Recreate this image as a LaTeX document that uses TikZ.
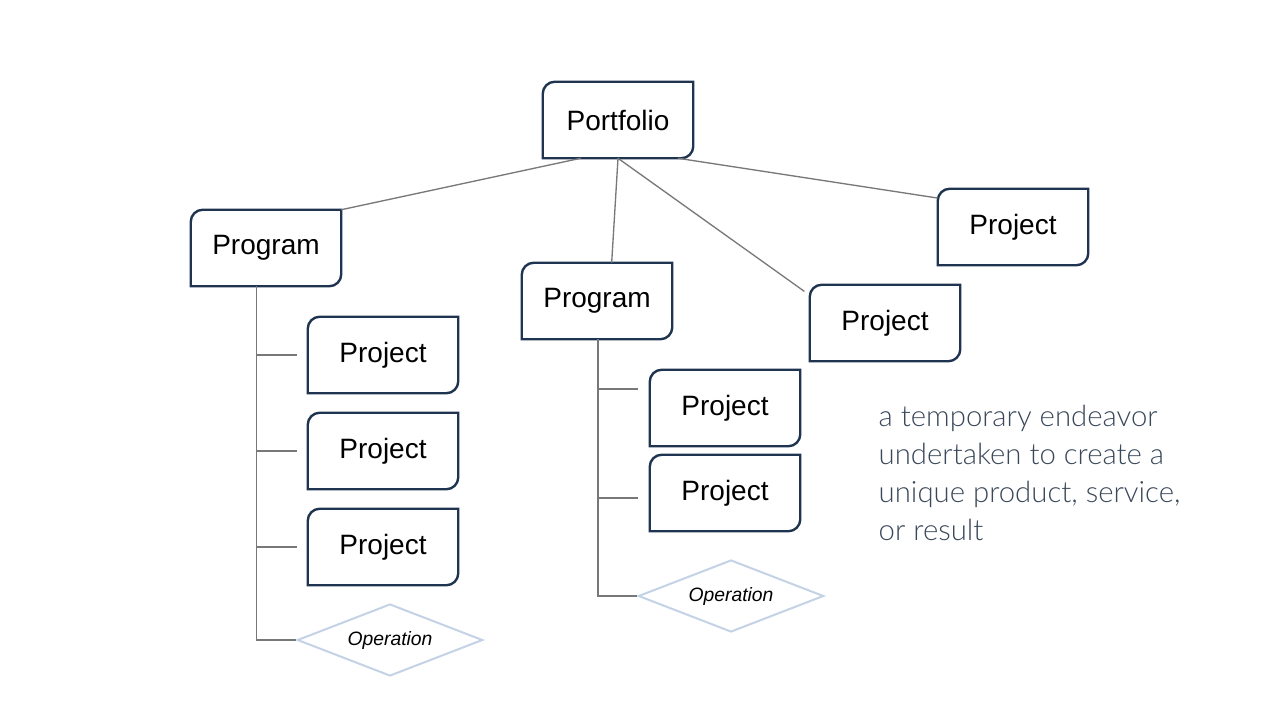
\documentclass[tikz,border=0pt]{standalone}
\usepackage{fontspec}
\setmainfont{Liberation Sans}
\newfontfamily\notefont{Lato Light}
\usetikzlibrary{shapes.geometric}
\definecolor{boxblue}{RGB}{31,52,80}
\definecolor{linegray}{RGB}{120,120,120}
\definecolor{diablue}{RGB}{196,210,230}
\definecolor{notegray}{RGB}{58,72,90}
\tikzset{
  unitbox/.style={minimum width=112.5pt,minimum height=57pt,inner sep=0pt,font=\fontsize{21}{24}\selectfont},
  boxline/.style={draw=boxblue,line width=1.8pt},
  oplabel/.style={diamond,draw=diablue,line width=1.5pt,minimum width=139pt,minimum height=54pt,aspect=2.6,inner sep=0pt,font=\fontsize{14.5}{16}\selectfont\itshape},
  link/.style={draw=linegray,line width=1pt}
}
\begin{document}
\begin{tikzpicture}[x=0.75pt,y=0.75pt,yscale=-1,xscale=1]
\useasboundingbox (0,0) rectangle (1280,720);

% Boxes
\node[unitbox] (portfolio) at (618,120) {Portfolio};
\node[unitbox] (progA) at (266,248) {Program};
\node[unitbox] (progB) at (597,301) {Program};
\node[unitbox] (projR) at (1013,227) {Project};
\node[unitbox] (projM) at (885,323) {Project};
\node[unitbox] (projA1) at (383,355) {Project};
\node[unitbox] (projA2) at (383,451) {Project};
\node[unitbox] (projA3) at (383,547) {Project};
\node[unitbox] (projB1) at (725,408) {Project};
\node[unitbox] (projB2) at (725,493) {Project};

% Outlines with two rounded corners
\foreach \n in {portfolio,progA,progB,projR,projM,projA1,projA2,projA3,projB1,projB2}
  \draw[boxline] (\n.south west) -- ([yshift=9pt]\n.north west) arc[start angle=180,end angle=270,radius=9pt]
    -- (\n.north east) -- ([yshift=-9pt]\n.south east) arc[start angle=0,end angle=90,radius=9pt] -- cycle;

% Operations
\node[oplabel] (opA) at (390,640) {Operation};
\node[oplabel] (opB) at (731,596) {Operation};

% Links from portfolio
\draw[link] ([xshift=-28pt]portfolio.south) -- (progA.north east);
\draw[link] (portfolio.south) -- ([xshift=11pt]progB.north);
\draw[link] (portfolio.south) -- ([xshift=-4pt,yshift=5pt]projM.north west);
\draw[link] ([xshift=45pt]portfolio.south) -- ([yshift=7pt]projR.north west);

% Tree of first program
\coordinate (trunkA) at ([xshift=-7pt]progA.south);
\draw[link] (trunkA) |- (opA.west);
\foreach \n in {projA1,projA2,projA3}
  \draw[link] (trunkA |- \n.west) -- ([xshift=-8pt]\n.west);

% Tree of second program
\coordinate (trunkB) at (598,339);
\draw[link] (trunkB) |- (opB.west);
\draw[link] (trunkB |- 0,389) -- (638,389);
\draw[link] (trunkB |- 0,498) -- (638,498);

% Definition
\node[anchor=north west,align=left,text=notegray,font=\notefont\fontsize{22}{28.5}\selectfont] (note) at (874,400)
  {a temporary endeavor\\undertaken to create a\\unique product, service,\\or result};
\end{tikzpicture}
\end{document}
